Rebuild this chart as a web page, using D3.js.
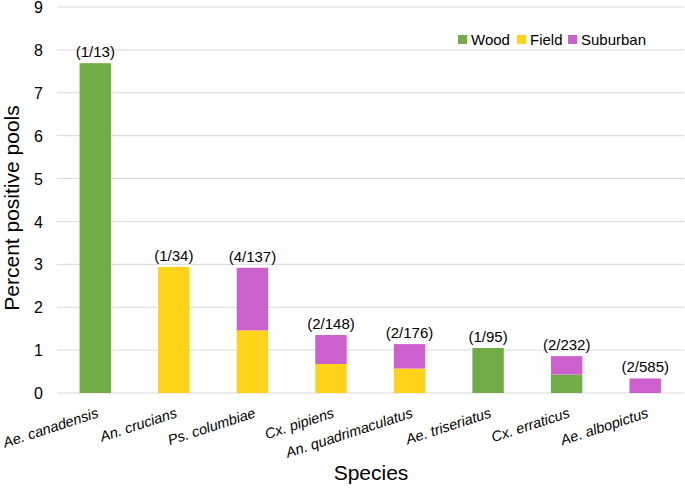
<!DOCTYPE html>
<html><head><meta charset="utf-8">
<script src="https://cdn.jsdelivr.net/npm/d3@7"></script>
<style>body{margin:0;background:#fff;} text{font-family:"Liberation Sans",Arial,sans-serif;}</style>
</head><body>
<svg id="c" width="685" height="488"></svg>
<script>
const species = ["Ae. canadensis","An. crucians","Ps. columbiae","Cx. pipiens","An. quadrimaculatus","Ae. triseriatus","Cx. erraticus","Ae. albopictus"];
const wood     = [7.69, 0, 0, 0, 0, 1.05, 0.43, 0];
const field    = [0, 2.94, 1.46, 0.676, 0.57, 0, 0, 0];
const suburban = [0, 0, 1.46, 0.676, 0.57, 0, 0.43, 0.34];
const ratios = ["(1/13)","(1/34)","(4/137)","(2/148)","(2/176)","(1/95)","(2/232)","(2/585)"];
const seriesNames = ["Wood","Field","Suburban"];
const colors = ["#70ad47","#ffd319","#cc60cc"];
const yTicks = [0,1,2,3,4,5,6,7,8,9];

const svg = d3.select("#c");
const x = d3.scaleBand().domain(species).range([56, 684.5]).paddingInner(0.6).paddingOuter(0.3);
const y = d3.scaleLinear().domain([0,9]).range([393, 7]);

// gridlines
svg.append("g").selectAll("line").data(yTicks).join("line")
  .attr("x1",57).attr("x2",684).attr("y1",d=>y(d)).attr("y2",d=>y(d))
  .attr("stroke","#d9d9d9").attr("stroke-width",1);

// y axis labels
const yAxis = d3.axisLeft(y).tickValues(yTicks).tickSize(0).tickPadding(0);
const ya = svg.append("g").attr("transform","translate(43,0)").call(yAxis);
ya.select(".domain").remove();
ya.selectAll("text").attr("font-size",16).attr("fill","#000").attr("dy","0.35em")
  .style("font-family",'"Liberation Sans",Arial,sans-serif');

// stacked bars
const table = species.map((s,i)=>({species:s, Wood:wood[i], Field:field[i], Suburban:suburban[i]}));
const stack = d3.stack().keys(seriesNames)(table);
svg.append("g").selectAll("g").data(stack).join("g")
  .attr("fill",(d,i)=>colors[i])
  .selectAll("rect").data(d=>d.filter(p=>p[1]-p[0]>0)).join("rect")
  .attr("x",d=>x(d.data.species)).attr("width",x.bandwidth())
  .attr("y",d=>y(d[1])).attr("height",d=>y(d[0])-y(d[1]));

// ratio labels
svg.append("g").selectAll("text").data(table).join("text")
  .attr("x",d=>x(d.species)+x.bandwidth()/2)
  .attr("y",d=>y(d.Wood+d.Field+d.Suburban)-6)
  .attr("text-anchor","middle").attr("font-size",15).attr("fill","#000")
  .text((d,i)=>ratios[i]);

// x labels
svg.append("g").selectAll("text").data(species).join("text")
  .attr("transform",d=>`translate(${x(d)+x.bandwidth()/2+4},${417}) rotate(-18)`)
  .attr("text-anchor","end").attr("font-size",14.5).attr("font-style","italic").attr("fill","#000")
  .text(d=>d);

// axis titles
svg.append("text").attr("x",371).attr("y",480).attr("text-anchor","middle").attr("font-size",21).text("Species");
svg.append("text").attr("transform","translate(19,208) rotate(-90)").attr("text-anchor","middle").attr("font-size",21).text("Percent positive pools");

// legend
const lx = [458, 517, 568];
const lg = svg.append("g").selectAll("g").data(seriesNames).join("g")
  .attr("transform",(d,i)=>`translate(${lx[i]},34)`);
lg.append("rect").attr("width",9).attr("height",9).attr("y",1).attr("fill",(d,i)=>colors[i]);
lg.append("text").attr("x",13).attr("y",10.5).attr("font-size",15).text(d=>d);
</script>
</body></html>
